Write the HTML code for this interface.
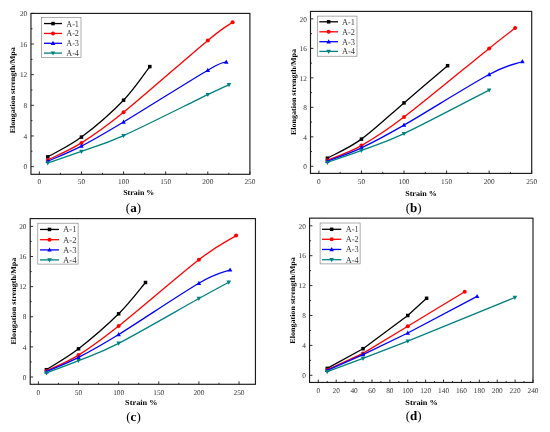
<!DOCTYPE html>
<html lang="en">
<head>
<meta charset="utf-8">
<title>Elongation strength vs strain</title>
<style>
html,body{margin:0;padding:0;background:#fff;}
body{width:550px;height:432px;overflow:hidden;}
svg{display:block;}
text{text-rendering:geometricPrecision;}
.tk{font-family:"Liberation Serif","DejaVu Serif",serif;font-size:7.35px;fill:#333;}
.ax{font-family:"Liberation Serif","DejaVu Serif",serif;font-size:8px;font-weight:bold;fill:#000;}
.lg{font-family:"Liberation Serif","DejaVu Serif",serif;font-size:9px;fill:#3a3a3a;}
.cap{font-family:"Liberation Serif","DejaVu Serif",serif;font-size:13px;fill:#000;}
</style>
</head>
<body>
<svg width="550" height="432" viewBox="0 0 550 432">
<rect width="550" height="432" fill="#fff"/>
<g>
<path d="M39.35,174.3v-2.9M60.41,174.3v-1.5M81.46,174.3v-2.9M102.52,174.3v-1.5M123.57,174.3v-2.9M144.62,174.3v-1.5M165.68,174.3v-2.9M186.73,174.3v-1.5M207.79,174.3v-2.9M228.84,174.3v-1.5M249.9,174.3v-2.9M30.95,166.6h2.9M30.95,151.28h1.5M30.95,135.96h2.9M30.95,120.64h1.5M30.95,105.32h2.9M30.95,90h1.5M30.95,74.68h2.9M30.95,59.36h1.5M30.95,44.04h2.9M30.95,28.72h1.5M30.95,13.4h2.9" stroke="#1a1a1a" stroke-width="0.9" fill="none"/>
<path d="M47.77,156.9 C53.39,153.6 68.83,146.55 81.46,137.1 C94.09,127.65 112.18,111.95 123.57,100.2 C134.96,88.45 145.43,72.2 149.8,66.6" stroke="#000000" stroke-width="1.3" fill="none" stroke-linejoin="round"/>
<rect x="46.02" y="155.15" width="3.5" height="3.5" fill="#000000"/>
<rect x="79.71" y="135.35" width="3.5" height="3.5" fill="#000000"/>
<rect x="121.82" y="98.45" width="3.5" height="3.5" fill="#000000"/>
<rect x="148.05" y="64.85" width="3.5" height="3.5" fill="#000000"/>
<path d="M47.77,159.9 C53.39,157.07 68.83,150.83 81.46,142.9 C94.09,134.97 102.52,129.38 123.57,112.3 C144.62,95.22 189.62,55.42 207.79,40.4 C225.96,25.38 228.47,25.23 232.6,22.2" stroke="#ff0000" stroke-width="1.3" fill="none" stroke-linejoin="round"/>
<circle cx="47.77" cy="159.9" r="2" fill="#ff0000"/>
<circle cx="81.46" cy="142.9" r="2" fill="#ff0000"/>
<circle cx="123.57" cy="112.3" r="2" fill="#ff0000"/>
<circle cx="207.79" cy="40.4" r="2" fill="#ff0000"/>
<circle cx="232.6" cy="22.2" r="2" fill="#ff0000"/>
<path d="M47.77,161.2 C53.39,158.68 68.83,152.63 81.46,146.1 C94.09,139.57 102.52,134.65 123.57,122 C144.62,109.35 190.67,80.2 207.79,70.2 C224.91,60.2 223.22,63.37 226.3,62" stroke="#0000ff" stroke-width="1.3" fill="none" stroke-linejoin="round"/>
<polygon points="47.77,158.72 50.02,162.89 45.52,162.89" fill="#0000ff"/>
<polygon points="81.46,143.62 83.71,147.79 79.21,147.79" fill="#0000ff"/>
<polygon points="123.57,119.53 125.82,123.69 121.32,123.69" fill="#0000ff"/>
<polygon points="207.79,67.73 210.04,71.89 205.54,71.89" fill="#0000ff"/>
<polygon points="226.3,59.52 228.55,63.69 224.05,63.69" fill="#0000ff"/>
<path d="M47.77,162.9 C53.39,160.98 68.83,155.95 81.46,151.4 C94.09,146.85 102.52,145.07 123.57,135.6 C144.62,126.13 190.22,103.07 207.79,94.6 C225.36,86.13 225.47,86.43 229,84.8" stroke="#008080" stroke-width="1.3" fill="none" stroke-linejoin="round"/>
<polygon points="47.77,165.38 50.02,161.21 45.52,161.21" fill="#008080"/>
<polygon points="81.46,153.88 83.71,149.71 79.21,149.71" fill="#008080"/>
<polygon points="123.57,138.07 125.82,133.91 121.32,133.91" fill="#008080"/>
<polygon points="207.79,97.07 210.04,92.91 205.54,92.91" fill="#008080"/>
<polygon points="229,87.27 231.25,83.11 226.75,83.11" fill="#008080"/>
<rect x="30.95" y="13.4" width="218.95" height="160.9" fill="none" stroke="#1a1a1a" stroke-width="1.15"/>
<text class="tk" x="39.35" y="184.2" text-anchor="middle">0</text>
<text class="tk" x="81.46" y="184.2" text-anchor="middle">50</text>
<text class="tk" x="123.57" y="184.2" text-anchor="middle">100</text>
<text class="tk" x="165.68" y="184.2" text-anchor="middle">150</text>
<text class="tk" x="207.79" y="184.2" text-anchor="middle">200</text>
<text class="tk" x="249.9" y="184.2" text-anchor="middle">250</text>
<text class="tk" x="27.25" y="169.3" text-anchor="end">0</text>
<text class="tk" x="27.25" y="138.66" text-anchor="end">4</text>
<text class="tk" x="27.25" y="108.02" text-anchor="end">8</text>
<text class="tk" x="27.25" y="77.38" text-anchor="end">12</text>
<text class="tk" x="27.25" y="46.74" text-anchor="end">16</text>
<text class="tk" x="27.25" y="16.1" text-anchor="end">20</text>
<text class="ax" transform="translate(138.7,194.9) scale(1,0.96)" text-anchor="middle" textLength="31" lengthAdjust="spacingAndGlyphs">Strain %</text>
<text class="ax" transform="translate(14.8,90.3) rotate(-90) scale(1,0.92)" text-anchor="middle" textLength="86" lengthAdjust="spacingAndGlyphs">Elongation strength/Mpa</text>
<rect x="41.4" y="17.4" width="39.6" height="40.1" fill="#fff" stroke="#777" stroke-width="0.6"/>
<path d="M44,23.55H62" stroke="#000000" stroke-width="1.3"/>
<rect x="51.25" y="21.8" width="3.5" height="3.5" fill="#000000"/>
<text class="lg" x="66.2" y="26.55" textLength="12.8" lengthAdjust="spacingAndGlyphs">A-1</text>
<path d="M44,33.45H62" stroke="#ff0000" stroke-width="1.3"/>
<circle cx="53" cy="33.45" r="2" fill="#ff0000"/>
<text class="lg" x="66.2" y="36.45" textLength="12.8" lengthAdjust="spacingAndGlyphs">A-2</text>
<path d="M44,43.3H62" stroke="#0000ff" stroke-width="1.3"/>
<polygon points="53,40.82 55.25,44.99 50.75,44.99" fill="#0000ff"/>
<text class="lg" x="66.2" y="46.3" textLength="12.8" lengthAdjust="spacingAndGlyphs">A-3</text>
<path d="M44,53.1H62" stroke="#008080" stroke-width="1.3"/>
<polygon points="53,55.58 55.25,51.41 50.75,51.41" fill="#008080"/>
<text class="lg" x="66.2" y="56.1" textLength="12.8" lengthAdjust="spacingAndGlyphs">A-4</text>
<text class="cap" x="133.4" y="211.5" text-anchor="middle">(<tspan font-weight="bold">a</tspan>)</text>
</g>
<g>
<path d="M318.9,173.4v-2.9M340.18,173.4v-1.5M361.46,173.4v-2.9M382.74,173.4v-1.5M404.02,173.4v-2.9M425.3,173.4v-1.5M446.58,173.4v-2.9M467.86,173.4v-1.5M489.14,173.4v-2.9M510.42,173.4v-1.5M531.7,173.4v-2.9M310.5,166.3h2.9M310.5,151.56h1.5M310.5,136.82h2.9M310.5,122.08h1.5M310.5,107.34h2.9M310.5,92.6h1.5M310.5,77.86h2.9M310.5,63.12h1.5M310.5,48.38h2.9M310.5,33.64h1.5M310.5,18.9h2.9" stroke="#1a1a1a" stroke-width="0.9" fill="none"/>
<path d="M327.41,158.2 C333.09,155.02 348.69,148.32 361.46,139.1 C374.23,129.88 389.66,115.13 404.02,102.9 C418.38,90.67 440.34,71.9 447.6,65.7" stroke="#000000" stroke-width="1.3" fill="none" stroke-linejoin="round"/>
<rect x="325.66" y="156.45" width="3.5" height="3.5" fill="#000000"/>
<rect x="359.71" y="137.35" width="3.5" height="3.5" fill="#000000"/>
<rect x="402.27" y="101.15" width="3.5" height="3.5" fill="#000000"/>
<rect x="445.85" y="63.95" width="3.5" height="3.5" fill="#000000"/>
<path d="M327.41,160.2 C333.09,157.77 348.69,152.78 361.46,145.6 C374.23,138.42 382.74,133.3 404.02,117.1 C425.3,100.9 470.63,63.23 489.14,48.4 C507.65,33.57 510.77,31.48 515.1,28.1" stroke="#ff0000" stroke-width="1.3" fill="none" stroke-linejoin="round"/>
<circle cx="327.41" cy="160.2" r="2" fill="#ff0000"/>
<circle cx="361.46" cy="145.6" r="2" fill="#ff0000"/>
<circle cx="404.02" cy="117.1" r="2" fill="#ff0000"/>
<circle cx="489.14" cy="48.4" r="2" fill="#ff0000"/>
<circle cx="515.1" cy="28.1" r="2" fill="#ff0000"/>
<path d="M327.41,161.2 C333.09,158.97 348.69,153.82 361.46,147.8 C374.23,141.78 382.74,137.32 404.02,125.1 C425.3,112.88 469.41,85.1 489.14,74.5 C508.87,63.9 516.86,63.67 522.4,61.5" stroke="#0000ff" stroke-width="1.3" fill="none" stroke-linejoin="round"/>
<polygon points="327.41,158.72 329.66,162.89 325.16,162.89" fill="#0000ff"/>
<polygon points="361.46,145.33 363.71,149.49 359.21,149.49" fill="#0000ff"/>
<polygon points="404.02,122.62 406.27,126.79 401.77,126.79" fill="#0000ff"/>
<polygon points="489.14,72.03 491.39,76.19 486.89,76.19" fill="#0000ff"/>
<polygon points="522.4,59.02 524.65,63.19 520.15,63.19" fill="#0000ff"/>
<path d="M327.41,162.4 C333.09,160.4 348.69,155.2 361.46,150.4 C374.23,145.6 382.74,143.65 404.02,133.6 C425.3,123.55 474.95,97.35 489.14,90.1" stroke="#008080" stroke-width="1.3" fill="none" stroke-linejoin="round"/>
<polygon points="327.41,164.88 329.66,160.71 325.16,160.71" fill="#008080"/>
<polygon points="361.46,152.88 363.71,148.71 359.21,148.71" fill="#008080"/>
<polygon points="404.02,136.07 406.27,131.91 401.77,131.91" fill="#008080"/>
<polygon points="489.14,92.57 491.39,88.41 486.89,88.41" fill="#008080"/>
<rect x="310.5" y="11.4" width="221.2" height="162" fill="none" stroke="#1a1a1a" stroke-width="1.15"/>
<text class="tk" x="318.9" y="183.8" text-anchor="middle">0</text>
<text class="tk" x="361.46" y="183.8" text-anchor="middle">50</text>
<text class="tk" x="404.02" y="183.8" text-anchor="middle">100</text>
<text class="tk" x="446.58" y="183.8" text-anchor="middle">150</text>
<text class="tk" x="489.14" y="183.8" text-anchor="middle">200</text>
<text class="tk" x="531.7" y="183.8" text-anchor="middle">250</text>
<text class="tk" x="306.8" y="169" text-anchor="end">0</text>
<text class="tk" x="306.8" y="139.52" text-anchor="end">4</text>
<text class="tk" x="306.8" y="110.04" text-anchor="end">8</text>
<text class="tk" x="306.8" y="80.56" text-anchor="end">12</text>
<text class="tk" x="306.8" y="51.08" text-anchor="end">16</text>
<text class="tk" x="306.8" y="21.6" text-anchor="end">20</text>
<text class="ax" transform="translate(421,196) scale(1,0.96)" text-anchor="middle" textLength="31.6" lengthAdjust="spacingAndGlyphs">Strain %</text>
<text class="ax" transform="translate(296,92.05) rotate(-90) scale(1,0.92)" text-anchor="middle" textLength="86" lengthAdjust="spacingAndGlyphs">Elongation strength/Mpa</text>
<rect x="317.3" y="16.1" width="39.7" height="40.1" fill="#fff" stroke="#777" stroke-width="0.6"/>
<path d="M319.3,21.8H338" stroke="#000000" stroke-width="1.3"/>
<rect x="326.9" y="20.05" width="3.5" height="3.5" fill="#000000"/>
<text class="lg" x="342" y="24.8" textLength="13" lengthAdjust="spacingAndGlyphs">A-1</text>
<path d="M319.3,31.8H338" stroke="#ff0000" stroke-width="1.3"/>
<circle cx="328.65" cy="31.8" r="2" fill="#ff0000"/>
<text class="lg" x="342" y="34.8" textLength="13" lengthAdjust="spacingAndGlyphs">A-2</text>
<path d="M319.3,41.7H338" stroke="#0000ff" stroke-width="1.3"/>
<polygon points="328.65,39.23 330.9,43.39 326.4,43.39" fill="#0000ff"/>
<text class="lg" x="342" y="44.7" textLength="13" lengthAdjust="spacingAndGlyphs">A-3</text>
<path d="M319.3,51.4H338" stroke="#008080" stroke-width="1.3"/>
<polygon points="328.65,53.88 330.9,49.71 326.4,49.71" fill="#008080"/>
<text class="lg" x="342" y="54.4" textLength="13" lengthAdjust="spacingAndGlyphs">A-4</text>
<text class="cap" x="413.65" y="211.9" text-anchor="middle">(<tspan font-weight="bold">b</tspan>)</text>
</g>
<g>
<path d="M38.4,384.3v-2.9M58.46,384.3v-1.5M78.53,384.3v-2.9M98.59,384.3v-1.5M118.65,384.3v-2.9M138.71,384.3v-1.5M158.78,384.3v-2.9M178.84,384.3v-1.5M198.9,384.3v-2.9M218.96,384.3v-1.5M239.03,384.3v-2.9M30.2,377h2.9M30.2,361.94h1.5M30.2,346.88h2.9M30.2,331.82h1.5M30.2,316.76h2.9M30.2,301.7h1.5M30.2,286.64h2.9M30.2,271.58h1.5M30.2,256.52h2.9M30.2,241.46h1.5M30.2,226.4h2.9" stroke="#1a1a1a" stroke-width="0.9" fill="none"/>
<path d="M46.42,369.7 C51.77,366.22 66.49,358.12 78.53,348.8 C90.56,339.48 107.49,324.85 118.65,313.8 C129.81,302.75 141.03,287.72 145.5,282.5" stroke="#000000" stroke-width="1.3" fill="none" stroke-linejoin="round"/>
<rect x="44.67" y="367.95" width="3.5" height="3.5" fill="#000000"/>
<rect x="76.78" y="347.05" width="3.5" height="3.5" fill="#000000"/>
<rect x="116.9" y="312.05" width="3.5" height="3.5" fill="#000000"/>
<rect x="143.75" y="280.75" width="3.5" height="3.5" fill="#000000"/>
<path d="M46.42,370.9 C51.77,368.27 66.49,362.58 78.53,355.1 C90.56,347.62 98.59,341.9 118.65,326 C138.71,310.1 179.33,274.77 198.9,259.7 C218.47,244.63 229.9,239.62 236.1,235.6" stroke="#ff0000" stroke-width="1.3" fill="none" stroke-linejoin="round"/>
<circle cx="46.42" cy="370.9" r="2" fill="#ff0000"/>
<circle cx="78.53" cy="355.1" r="2" fill="#ff0000"/>
<circle cx="118.65" cy="326" r="2" fill="#ff0000"/>
<circle cx="198.9" cy="259.7" r="2" fill="#ff0000"/>
<circle cx="236.1" cy="235.6" r="2" fill="#ff0000"/>
<path d="M46.42,371.7 C51.77,369.32 66.49,363.6 78.53,357.4 C90.56,351.2 98.59,346.87 118.65,334.5 C138.71,322.13 180.33,293.97 198.9,283.2 C217.47,272.43 224.9,272.12 230.1,269.9" stroke="#0000ff" stroke-width="1.3" fill="none" stroke-linejoin="round"/>
<polygon points="46.42,369.22 48.67,373.39 44.17,373.39" fill="#0000ff"/>
<polygon points="78.53,354.92 80.78,359.09 76.28,359.09" fill="#0000ff"/>
<polygon points="118.65,332.02 120.9,336.19 116.4,336.19" fill="#0000ff"/>
<polygon points="198.9,280.72 201.15,284.89 196.65,284.89" fill="#0000ff"/>
<polygon points="230.1,267.42 232.35,271.59 227.85,271.59" fill="#0000ff"/>
<path d="M46.42,372.9 C51.77,370.85 66.49,365.53 78.53,360.6 C90.56,355.67 98.59,353.65 118.65,343.3 C138.71,332.95 180.54,308.68 198.9,298.5 C217.26,288.32 223.82,284.92 228.8,282.2" stroke="#008080" stroke-width="1.3" fill="none" stroke-linejoin="round"/>
<polygon points="46.42,375.38 48.67,371.21 44.17,371.21" fill="#008080"/>
<polygon points="78.53,363.08 80.78,358.91 76.28,358.91" fill="#008080"/>
<polygon points="118.65,345.78 120.9,341.61 116.4,341.61" fill="#008080"/>
<polygon points="198.9,300.98 201.15,296.81 196.65,296.81" fill="#008080"/>
<polygon points="228.8,284.68 231.05,280.51 226.55,280.51" fill="#008080"/>
<rect x="30.2" y="218.6" width="225.25" height="165.7" fill="none" stroke="#1a1a1a" stroke-width="1.15"/>
<text class="tk" x="38.4" y="394.5" text-anchor="middle">0</text>
<text class="tk" x="78.53" y="394.5" text-anchor="middle">50</text>
<text class="tk" x="118.65" y="394.5" text-anchor="middle">100</text>
<text class="tk" x="158.78" y="394.5" text-anchor="middle">150</text>
<text class="tk" x="198.9" y="394.5" text-anchor="middle">200</text>
<text class="tk" x="239.03" y="394.5" text-anchor="middle">250</text>
<text class="tk" x="26.5" y="379.7" text-anchor="end">0</text>
<text class="tk" x="26.5" y="349.58" text-anchor="end">4</text>
<text class="tk" x="26.5" y="319.46" text-anchor="end">8</text>
<text class="tk" x="26.5" y="289.34" text-anchor="end">12</text>
<text class="tk" x="26.5" y="259.22" text-anchor="end">16</text>
<text class="tk" x="26.5" y="229.1" text-anchor="end">20</text>
<text class="ax" transform="translate(141.3,405.3) scale(1,0.96)" text-anchor="middle" textLength="32.4" lengthAdjust="spacingAndGlyphs">Strain %</text>
<text class="ax" transform="translate(16.2,301.1) rotate(-90) scale(1,0.92)" text-anchor="middle" textLength="87" lengthAdjust="spacingAndGlyphs">Elongation strength/Mpa</text>
<rect x="37.8" y="223.2" width="40.3" height="40.9" fill="#fff" stroke="#777" stroke-width="0.6"/>
<path d="M40,229.45H59" stroke="#000000" stroke-width="1.3"/>
<rect x="47.75" y="227.7" width="3.5" height="3.5" fill="#000000"/>
<text class="lg" x="63.1" y="232.45" textLength="13.5" lengthAdjust="spacingAndGlyphs">A-1</text>
<path d="M40,239.7H59" stroke="#ff0000" stroke-width="1.3"/>
<circle cx="49.5" cy="239.7" r="2" fill="#ff0000"/>
<text class="lg" x="63.1" y="242.7" textLength="13.5" lengthAdjust="spacingAndGlyphs">A-2</text>
<path d="M40,249.9H59" stroke="#0000ff" stroke-width="1.3"/>
<polygon points="49.5,247.43 51.75,251.59 47.25,251.59" fill="#0000ff"/>
<text class="lg" x="63.1" y="252.9" textLength="13.5" lengthAdjust="spacingAndGlyphs">A-3</text>
<path d="M40,259.9H59" stroke="#008080" stroke-width="1.3"/>
<polygon points="49.5,262.38 51.75,258.21 47.25,258.21" fill="#008080"/>
<text class="lg" x="63.1" y="262.9" textLength="13.5" lengthAdjust="spacingAndGlyphs">A-4</text>
<text class="cap" x="133.5" y="420.8" text-anchor="middle">(<tspan font-weight="bold">c</tspan>)</text>
</g>
<g>
<path d="M318.3,382.45v-2.9M327.25,382.45v-1.5M336.19,382.45v-2.9M345.14,382.45v-1.5M354.08,382.45v-2.9M363.03,382.45v-1.5M371.98,382.45v-2.9M380.92,382.45v-1.5M389.87,382.45v-2.9M398.81,382.45v-1.5M407.76,382.45v-2.9M416.71,382.45v-1.5M425.65,382.45v-2.9M434.6,382.45v-1.5M443.54,382.45v-2.9M452.49,382.45v-1.5M461.44,382.45v-2.9M470.38,382.45v-1.5M479.33,382.45v-2.9M488.27,382.45v-1.5M497.22,382.45v-2.9M506.17,382.45v-1.5M515.11,382.45v-2.9M524.06,382.45v-1.5M533,382.45v-2.9M309.55,375.3h2.9M309.55,360.35h1.5M309.55,345.4h2.9M309.55,330.45h1.5M309.55,315.5h2.9M309.55,300.55h1.5M309.55,285.6h2.9M309.55,270.65h1.5M309.55,255.7h2.9M309.55,240.75h1.5M309.55,225.8h2.9" stroke="#1a1a1a" stroke-width="0.9" fill="none"/>
<path d="M327.25,368.4 L363.03,348.7 L407.76,315.5 L426.6,298.3" stroke="#000000" stroke-width="1.3" fill="none" stroke-linejoin="round"/>
<rect x="325.5" y="366.65" width="3.5" height="3.5" fill="#000000"/>
<rect x="361.28" y="346.95" width="3.5" height="3.5" fill="#000000"/>
<rect x="406.01" y="313.75" width="3.5" height="3.5" fill="#000000"/>
<rect x="424.85" y="296.55" width="3.5" height="3.5" fill="#000000"/>
<path d="M327.25,369.9 L363.03,353.4 L407.76,326.2 L464.7,291.8" stroke="#ff0000" stroke-width="1.3" fill="none" stroke-linejoin="round"/>
<circle cx="327.25" cy="369.9" r="2" fill="#ff0000"/>
<circle cx="363.03" cy="353.4" r="2" fill="#ff0000"/>
<circle cx="407.76" cy="326.2" r="2" fill="#ff0000"/>
<circle cx="464.7" cy="291.8" r="2" fill="#ff0000"/>
<path d="M327.25,370.4 L363.03,354.6 L407.76,333 L477.1,296.4" stroke="#0000ff" stroke-width="1.3" fill="none" stroke-linejoin="round"/>
<polygon points="327.25,367.92 329.5,372.09 325,372.09" fill="#0000ff"/>
<polygon points="363.03,352.12 365.28,356.29 360.78,356.29" fill="#0000ff"/>
<polygon points="407.76,330.52 410.01,334.69 405.51,334.69" fill="#0000ff"/>
<polygon points="477.1,293.92 479.35,298.09 474.85,298.09" fill="#0000ff"/>
<path d="M327.25,371.7 L363.03,358.4 L407.76,341.1 L514.9,297.5" stroke="#008080" stroke-width="1.3" fill="none" stroke-linejoin="round"/>
<polygon points="327.25,374.18 329.5,370.01 325,370.01" fill="#008080"/>
<polygon points="363.03,360.88 365.28,356.71 360.78,356.71" fill="#008080"/>
<polygon points="407.76,343.58 410.01,339.41 405.51,339.41" fill="#008080"/>
<polygon points="514.9,299.98 517.15,295.81 512.65,295.81" fill="#008080"/>
<rect x="309.55" y="218.15" width="223.45" height="164.3" fill="none" stroke="#1a1a1a" stroke-width="1.15"/>
<text class="tk" x="318.3" y="392.7" text-anchor="middle">0</text>
<text class="tk" x="336.19" y="392.7" text-anchor="middle">20</text>
<text class="tk" x="354.08" y="392.7" text-anchor="middle">40</text>
<text class="tk" x="371.98" y="392.7" text-anchor="middle">60</text>
<text class="tk" x="389.87" y="392.7" text-anchor="middle">80</text>
<text class="tk" x="407.76" y="392.7" text-anchor="middle">100</text>
<text class="tk" x="425.65" y="392.7" text-anchor="middle">120</text>
<text class="tk" x="443.54" y="392.7" text-anchor="middle">140</text>
<text class="tk" x="461.44" y="392.7" text-anchor="middle">160</text>
<text class="tk" x="479.33" y="392.7" text-anchor="middle">180</text>
<text class="tk" x="497.22" y="392.7" text-anchor="middle">200</text>
<text class="tk" x="515.11" y="392.7" text-anchor="middle">220</text>
<text class="tk" x="533" y="392.7" text-anchor="middle">240</text>
<text class="tk" x="305.85" y="378" text-anchor="end">0</text>
<text class="tk" x="305.85" y="348.1" text-anchor="end">4</text>
<text class="tk" x="305.85" y="318.2" text-anchor="end">8</text>
<text class="tk" x="305.85" y="288.3" text-anchor="end">12</text>
<text class="tk" x="305.85" y="258.4" text-anchor="end">16</text>
<text class="tk" x="305.85" y="228.5" text-anchor="end">20</text>
<text class="ax" transform="translate(421.6,405.1) scale(1,0.96)" text-anchor="middle" textLength="32.6" lengthAdjust="spacingAndGlyphs">Strain %</text>
<text class="ax" transform="translate(294.9,300.5) rotate(-90) scale(1,0.92)" text-anchor="middle" textLength="86.5" lengthAdjust="spacingAndGlyphs">Elongation strength/Mpa</text>
<rect x="320.1" y="223" width="40" height="40.9" fill="#fff" stroke="#777" stroke-width="0.6"/>
<path d="M322,229.3H341.3" stroke="#000000" stroke-width="1.3"/>
<rect x="329.9" y="227.55" width="3.5" height="3.5" fill="#000000"/>
<text class="lg" x="345.7" y="232.3" textLength="12.9" lengthAdjust="spacingAndGlyphs">A-1</text>
<path d="M322,239.3H341.3" stroke="#ff0000" stroke-width="1.3"/>
<circle cx="331.65" cy="239.3" r="2" fill="#ff0000"/>
<text class="lg" x="345.7" y="242.3" textLength="12.9" lengthAdjust="spacingAndGlyphs">A-2</text>
<path d="M322,249.45H341.3" stroke="#0000ff" stroke-width="1.3"/>
<polygon points="331.65,246.97 333.9,251.14 329.4,251.14" fill="#0000ff"/>
<text class="lg" x="345.7" y="252.45" textLength="12.9" lengthAdjust="spacingAndGlyphs">A-3</text>
<path d="M322,259.7H341.3" stroke="#008080" stroke-width="1.3"/>
<polygon points="331.65,262.18 333.9,258.01 329.4,258.01" fill="#008080"/>
<text class="lg" x="345.7" y="262.7" textLength="12.9" lengthAdjust="spacingAndGlyphs">A-4</text>
<text class="cap" x="413.65" y="420.3" text-anchor="middle">(<tspan font-weight="bold">d</tspan>)</text>
</g>
</svg>
</body>
</html>
